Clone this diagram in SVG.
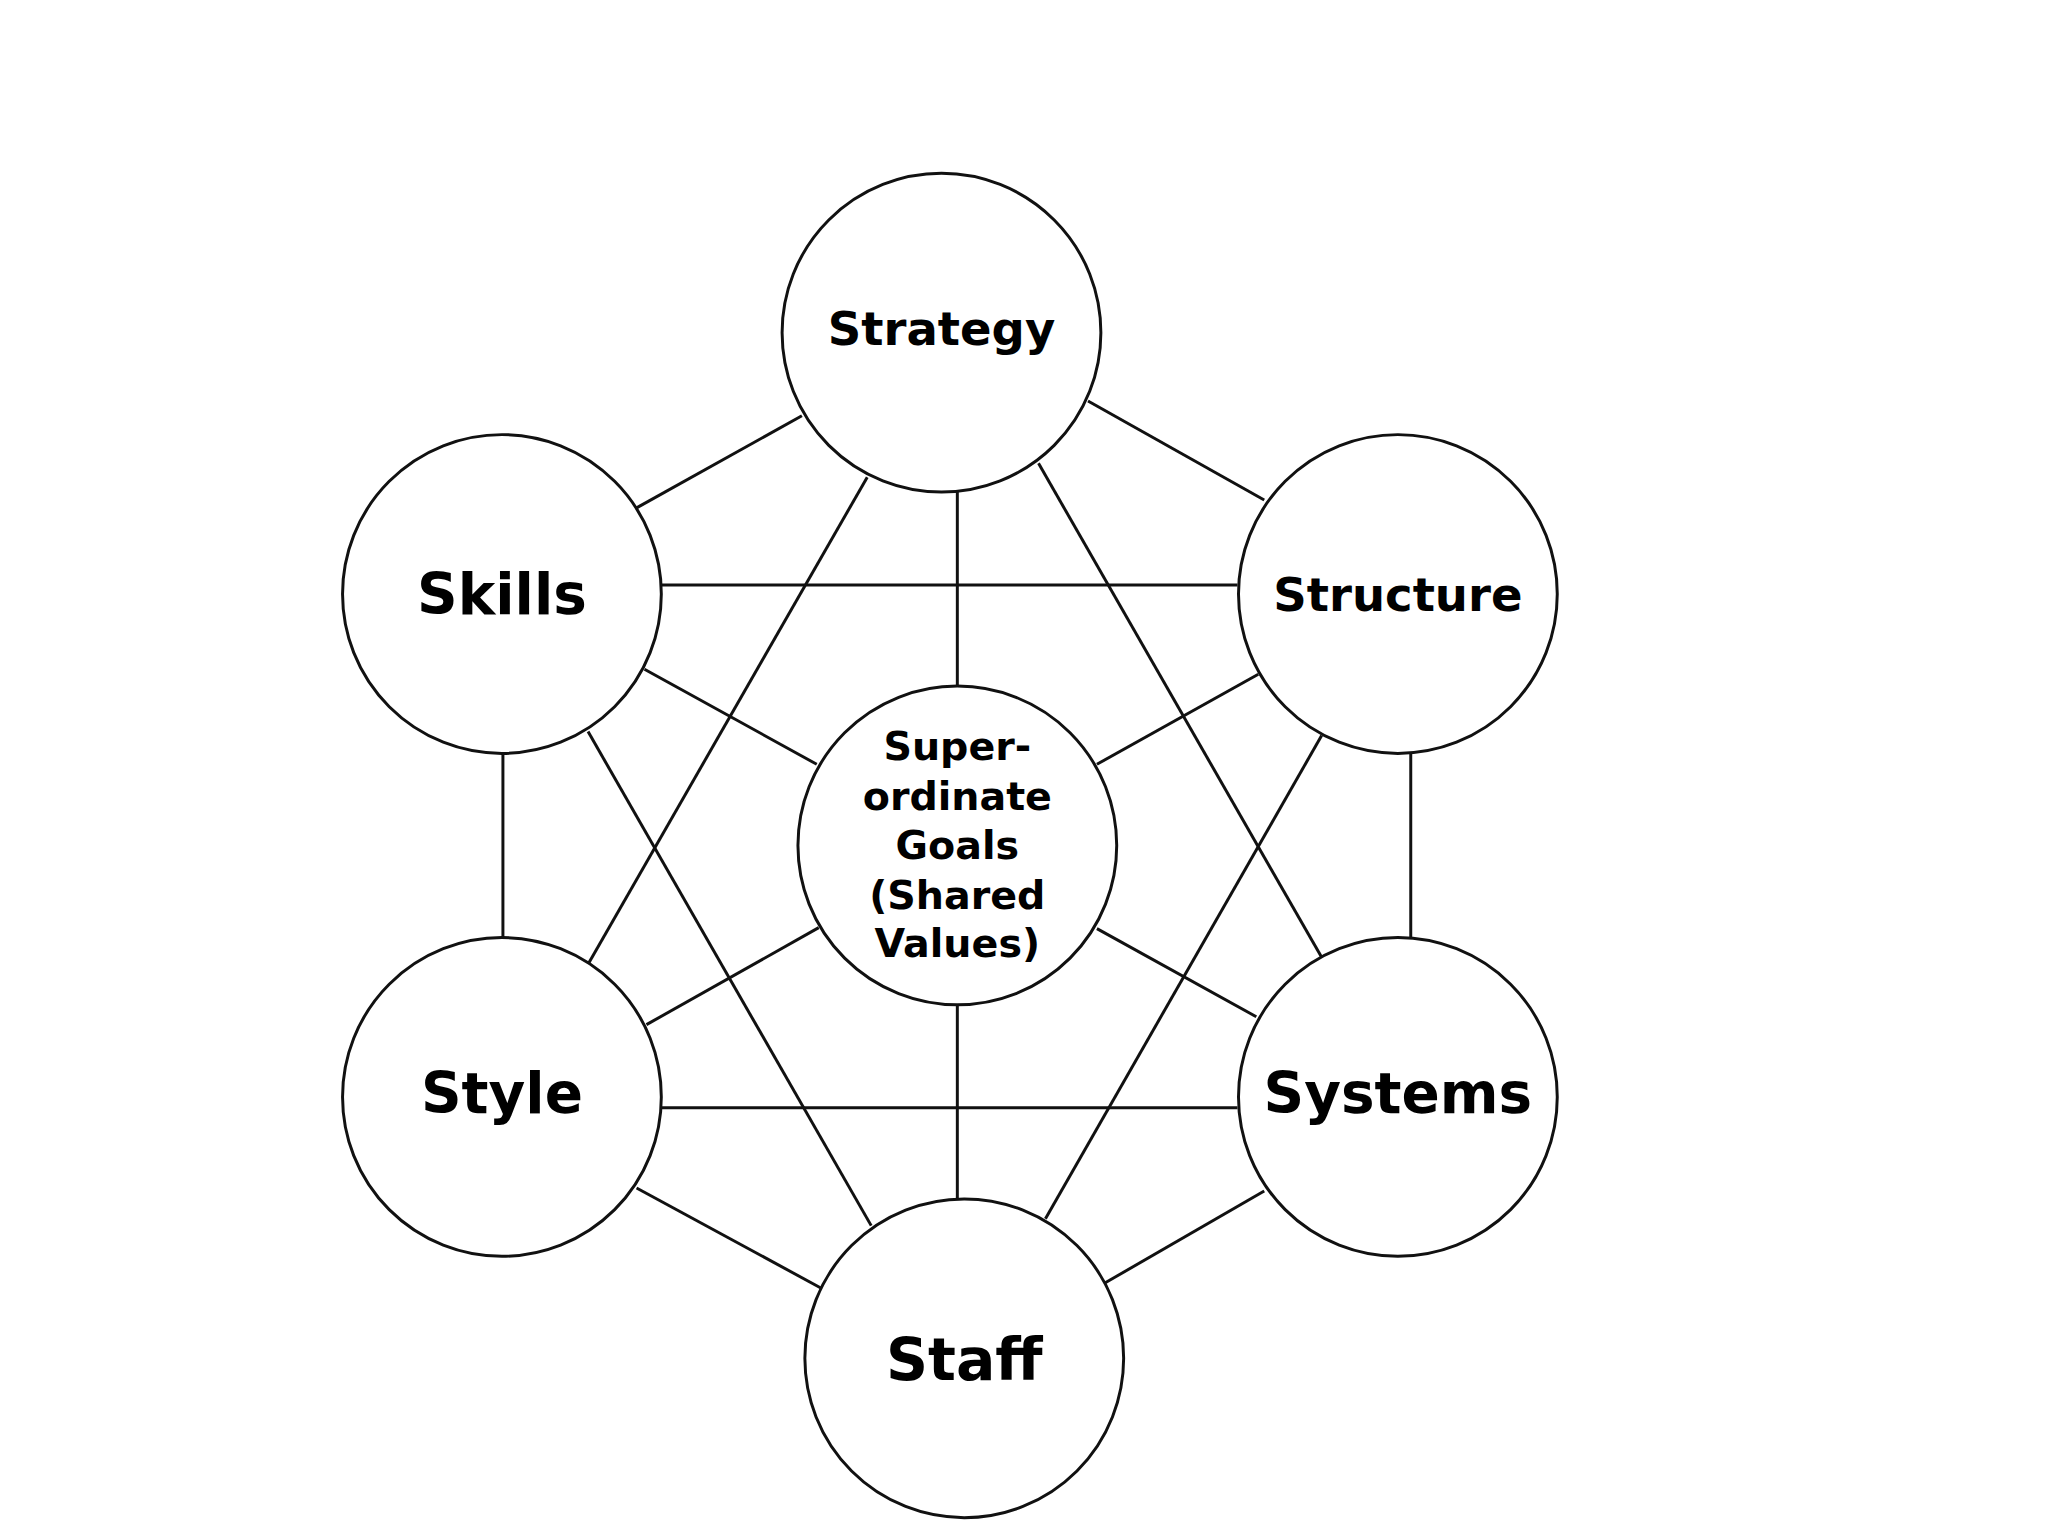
<svg xmlns="http://www.w3.org/2000/svg" width="2048" height="1536" viewBox="0 0 2048 1536">
<style>
.n{fill:#fff;stroke:#111;stroke-width:3}
.c line{stroke:#111;stroke-width:3}
text{font-family:"DejaVu Sans",sans-serif;font-weight:bold;text-anchor:middle;fill:#000}
</style>
<rect width="2048" height="1536" fill="#fff"/>
<g transform="scale(0.99)">
<g class="c" id="connectors">
<line x1="810" y1="420" x2="643" y2="513"/>
<line x1="1099" y1="405" x2="1277" y2="505"/>
<line x1="668" y1="591" x2="1250" y2="591"/>
<line x1="668" y1="1119" x2="1250" y2="1119"/>
<line x1="508" y1="761" x2="508" y2="947"/>
<line x1="1425" y1="761" x2="1425" y2="947"/>
<line x1="967" y1="497" x2="967" y2="693"/>
<line x1="967" y1="1016" x2="967" y2="1211"/>
<line x1="876" y1="482" x2="594" y2="974"/>
<line x1="1049" y1="468" x2="1335" y2="967"/>
<line x1="594" y1="739" x2="880" y2="1238"/>
<line x1="1335" y1="743" x2="1056" y2="1231"/>
<line x1="651" y1="676" x2="825" y2="772"/>
<line x1="1271" y1="681" x2="1108" y2="772"/>
<line x1="653" y1="1035" x2="827" y2="937"/>
<line x1="1269" y1="1027" x2="1108" y2="938"/>
<line x1="643" y1="1200" x2="831" y2="1302"/>
<line x1="1277" y1="1203" x2="1116" y2="1296"/>
</g>
<g id="strategy"><circle class="n" cx="951" cy="336" r="161"/><text x="951" y="349" font-size="47">Strategy</text></g>
<g id="skills"><circle class="n" cx="507" cy="600" r="161"/><text x="507" y="620" font-size="57">Skills</text></g>
<g id="structure"><circle class="n" cx="1412" cy="600" r="161"/><text x="1412" y="617" font-size="47">Structure</text></g>
<g id="style"><circle class="n" cx="507" cy="1108" r="161"/><text x="507" y="1124" font-size="57">Style</text></g>
<g id="systems"><circle class="n" cx="1412" cy="1108" r="161"/><text x="1412" y="1124" font-size="57">Systems</text></g>
<g id="staff"><circle class="n" cx="974" cy="1372" r="161"/><text x="974" y="1394" font-size="59">Staff</text></g>
<g id="goals"><circle class="n" cx="967" cy="854" r="161"/>
<text font-size="40"><tspan x="967" y="768">Super-</tspan><tspan x="967" y="818">ordinate</tspan><tspan x="967" y="868">Goals</tspan><tspan x="967" y="918">(Shared</tspan><tspan x="967" y="967">Values)</tspan></text></g>
</g>
</svg>
